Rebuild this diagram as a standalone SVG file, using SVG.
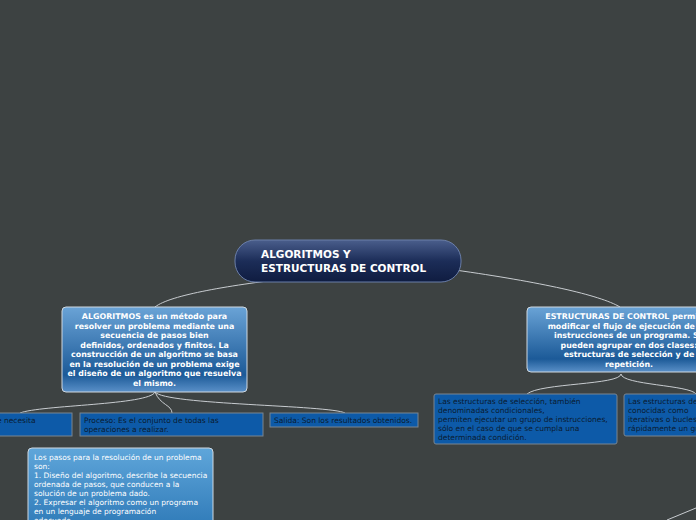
<svg xmlns="http://www.w3.org/2000/svg" width="696" height="520" viewBox="0 0 696 520">
<defs>
<linearGradient id="gc" x1="0" y1="0" x2="0" y2="1"><stop offset="0" stop-color="#4a5e8c"/><stop offset="0.5" stop-color="#1c2d58"/><stop offset="1" stop-color="#0f1c40"/></linearGradient>
<linearGradient id="gb" x1="0" y1="0" x2="0" y2="1"><stop offset="0" stop-color="#6aa3d6"/><stop offset="0.8" stop-color="#1c5a98"/><stop offset="1" stop-color="#5a90c8"/></linearGradient>
<linearGradient id="gl" x1="0" y1="0" x2="0" y2="1"><stop offset="0" stop-color="#5fa6da"/><stop offset="1" stop-color="#2f7ab8"/></linearGradient>
<style>
.t{font-family:"DejaVu Sans",Verdana,sans-serif;font-size:7.5px;fill:#0a1a30}
.w{font-family:"DejaVu Sans",Verdana,sans-serif;font-size:7.9px;fill:#fff;font-weight:bold}
.l{font-family:"DejaVu Sans",Verdana,sans-serif;font-size:7.5px;fill:#fff}
.b{fill:#0d5aa8;stroke:#7a8590;stroke-width:1}
.c{fill:none;stroke:#c8ccd0;stroke-width:1}
</style>
</defs>
<rect width="696" height="520" fill="#3d4242"/>
<g id="connectors">
<path class="c" d="M300,277 C230,285 170,295 155,307"/>
<path class="c" d="M455,270 C540,282 600,295 620,307"/>
<path class="c" d="M155,392 C150,405 40,405 20,413"/>
<path class="c" d="M155,392 C160,405 172,405 172,413"/>
<path class="c" d="M155,392 C165,405 330,405 345,413"/>
<path class="c" d="M621,374 C620,385 540,383 527,394"/>
<path class="c" d="M621,374 C622,385 690,385 696,394"/>
<path class="c" d="M667,520 L696,508"/>
</g>
<g id="central">
<rect x="235" y="240" width="226" height="42" rx="20" fill="url(#gc)" stroke="#6a7ea8"/>
<text class="w" x="261" y="258" style="font-size:10.5px">ALGORITMOS Y</text>
<text class="w" x="261" y="272" style="font-size:10.5px">ESTRUCTURAS DE CONTROL</text>
</g>
<g id="algoritmos">
<rect x="62" y="307" width="185" height="85" rx="4" fill="url(#gb)" stroke="#d0d8e0"/>
<g class="w" text-anchor="middle">
<text x="154.5" y="319">ALGORITMOS es un método para</text>
<text x="154.5" y="328.5">resolver un problema mediante una</text>
<text x="154.5" y="338">secuencia de pasos bien</text>
<text x="154.5" y="347.5">definidos, ordenados y finitos. La</text>
<text x="154.5" y="357">construcción de un algoritmo se basa</text>
<text x="154.5" y="366.5">en la resolución de un problema exige</text>
<text x="154.5" y="376">el diseño de un algoritmo que resuelva</text>
<text x="154.5" y="385.5">el mismo.</text>
</g>
</g>
<g id="estructuras">
<rect x="527" y="307" width="180" height="65" rx="4" fill="url(#gb)" stroke="#d0d8e0"/>
<g class="w" text-anchor="middle">
<text x="629" y="319">ESTRUCTURAS DE CONTROL permiten</text>
<text x="629" y="328.5">modificar el flujo de ejecución de las</text>
<text x="629" y="338">instrucciones de un programa. Se</text>
<text x="629" y="347.5">pueden agrupar en dos clases:</text>
<text x="629" y="357">estructuras de selección y de</text>
<text x="629" y="366.5">repetición.</text>
</g>
</g>
<g id="entrada">
<rect class="b" x="-10" y="413" width="82" height="23"/>
<text class="t" x="-56" y="423">Entrada: lo que necesita</text>
<text class="t" x="-56" y="432">para iniciar.</text>
</g>
<g id="proceso">
<rect class="b" x="80" y="413" width="183" height="23"/>
<text class="t" x="84" y="423">Proceso: Es el conjunto de todas las</text>
<text class="t" x="84" y="432">operaciones a realizar.</text>
</g>
<g id="salida">
<rect class="b" x="270" y="413" width="148" height="14"/>
<text class="t" x="274" y="423">Salida: Son los resultados obtenidos.</text>
</g>
<g id="pasos">
<rect x="28" y="448" width="185" height="80" rx="4" fill="url(#gl)" stroke="#d0d8e0"/>
<g class="l">
<text x="34" y="460">Los pasos para la resolución de un problema</text>
<text x="34" y="469">son:</text>
<text x="34" y="478">1. Diseño del algoritmo, describe la secuencia</text>
<text x="34" y="487">ordenada de pasos, que conducen a la</text>
<text x="34" y="496">solución de un problema dado.</text>
<text x="34" y="505">2. Expresar el algoritmo como un programa</text>
<text x="34" y="514">en un lenguaje de programación</text>
<text x="34" y="523">adecuado.</text>
</g>
</g>
<g id="seleccion">
<rect class="b" x="434" y="394" width="183" height="50" rx="2"/>
<text class="t" x="438" y="404">Las estructuras de selección, también</text>
<text class="t" x="438" y="413">denominadas condicionales,</text>
<text class="t" x="438" y="422">permiten ejecutar un grupo de instrucciones,</text>
<text class="t" x="438" y="431">sólo en el caso de que se cumpla una</text>
<text class="t" x="438" y="440">determinada condición.</text>
</g>
<g id="repeticion">
<rect class="b" x="624" y="394" width="90" height="42" rx="2"/>
<text class="t" x="628" y="404">Las estructuras de repetición,</text>
<text class="t" x="628" y="413">conocidas como</text>
<text class="t" x="628" y="422">iterativas o bucles, permiten</text>
<text class="t" x="628" y="431">rápidamente un grupo</text>
</g>
</svg>
